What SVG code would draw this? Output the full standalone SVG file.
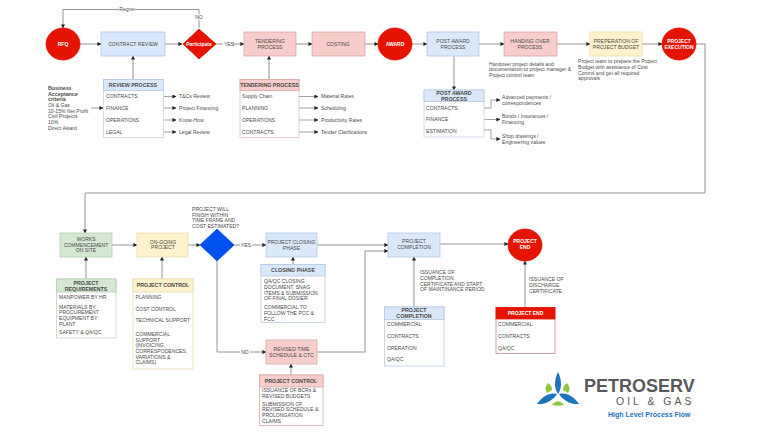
<svg xmlns="http://www.w3.org/2000/svg" width="768" height="433" viewBox="0 0 768 433">
<style>
text{font-family:"Liberation Sans",Arial,sans-serif;font-size:5.1px;fill:#4a4a4a}
.c{text-anchor:middle}
.b{font-weight:bold;font-size:5.3px}
.w{fill:#fff;font-weight:bold;font-size:5px}
.blue{fill:#dae8fc;stroke:#b4c7e0}
.red{fill:#f8cecc;stroke:#d8a8a6}
.yel{fill:#fff2cc;stroke:#e6dbb0}
.grn{fill:#d5e8d4;stroke:#b5cfb3}
.circ{fill:#e51400;stroke:#e51400}
.box{fill:#fff}
rect,ellipse,polygon{stroke-width:.8}
.con path{fill:none;stroke:#888;stroke-width:.9;marker-end:url(#a)}
.con path.t{stroke:#666;stroke-width:.6}
.con path.n{marker-end:none}
</style>
<defs><marker id="a" markerUnits="userSpaceOnUse" markerWidth="4" markerHeight="4" refX="3.6" refY="2" orient="auto"><path d="M0,0L4,2L0,4Z" fill="#222"/></marker></defs>
<rect width="768" height="433" fill="#fff"/>
<g class="con" id="connectors">
<path d="M199,28V9.500H63V28"/>
<path d="M80,44H101"/><path d="M165,44H182"/><path d="M216,44H244"/><path d="M296,44H312"/><path d="M365,44H378"/><path d="M412,44H427"/><path d="M479,44H504"/><path d="M557,44H590"/><path d="M642,44H662"/>
<path d="M133,79V56"/><path d="M269,79V56"/><path d="M454,56V90"/>
<path class="t" d="M91,108H103"/>
<path class="t" d="M163,96.500H176"/><path class="t" d="M163,108H176"/><path class="t" d="M163,120H176"/><path class="t" d="M163,132H176"/>
<path class="t" d="M299,96.500H318"/><path class="t" d="M299,108H318"/><path class="t" d="M299,120H318"/><path class="t" d="M299,132H318"/>
<path class="t" d="M484,108H491V100H500"/><path class="t" d="M484,119.500H500"/><path class="t" d="M484,130H491V139H500"/>
<path d="M696,44H705V193H85V233"/>
<path d="M112,245H137"/><path d="M188,245H200"/><path d="M234,245H266"/><path d="M86,279V257"/><path d="M162,279V257"/>
<path d="M293,264V257"/><path d="M291,375V364"/>
<path d="M217,261V352H266"/>
<path d="M317,245H388"/><path d="M317,352H365V251H388"/>
<path d="M440,244H508"/><path d="M414,307V257"/><path d="M525,307V261"/>
</g>
<g id="rfq"><ellipse class="circ" cx="63" cy="44" rx="17" ry="16"/><text class="c w" x="63" y="46">RFQ</text></g>
<g id="contract-review"><rect class="blue" x="101" y="32" width="64" height="24"/><text class="c" x="133" y="46">CONTRACT REVIEW</text></g>
<g id="participate"><polygon class="circ" points="199,29 216,44 199,59 183,44"/><text class="c w" x="199" y="46">Participate</text></g>
<g id="tendering"><rect class="red" x="244" y="32" width="52" height="24"/><text class="c" x="270" y="43">TENDERING</text><text class="c" x="270" y="49">PROCESS</text></g>
<g id="costing"><rect class="red" x="312" y="32" width="53" height="24"/><text class="c" x="338" y="46">COSTING</text></g>
<g id="award"><ellipse class="circ" cx="395" cy="44" rx="17" ry="16"/><text class="c w" x="395" y="46">AWARD</text></g>
<g id="post-award"><rect class="blue" x="427" y="32" width="52" height="24"/><text class="c" x="453" y="43">POST AWARD</text><text class="c" x="453" y="49">PROCESS</text></g>
<g id="handing-over"><rect class="red" x="504" y="32" width="53" height="24"/><text class="c" x="530" y="43">HANDING OVER</text><text class="c" x="530" y="49">PROCESS</text></g>
<g id="budget"><rect class="yel" x="590" y="32" width="52" height="24"/><text class="c" x="616" y="43">PREPERATION OF</text><text class="c" x="616" y="49">PROJECT BUDGET</text></g>
<g id="execution"><ellipse class="circ" cx="679" cy="44" rx="17" ry="16"/><text class="c w" x="679" y="43">PROJECT</text><text class="c w" x="679" y="49">EXECUTION</text></g>

<g id="criteria"><text class="b" x="48" y="90">Business</text><text class="b" x="48" y="95.500">Acceptance</text><text class="b" x="48" y="101">criteria</text><text x="48" y="107">Oil &amp; Gas</text><text x="48" y="112.500">10-15% Net Profit</text><text x="48" y="118">Civil Projects</text><text x="48" y="123.500">10%</text><text x="48" y="129.500">Direct Award</text></g>
<g id="review-process"><rect class="box" x="103.500" y="79.500" width="60" height="58" stroke="#c5d3e6"/><rect class="blue" x="103.500" y="79.500" width="60" height="11"/><text class="c b" x="133" y="87">REVIEW PROCESS</text><text x="106" y="98">CONTRACTS</text><text x="106" y="110">FINANCE</text><text x="106" y="121.500">OPERATIONS</text><text x="106" y="133.500">LEGAL</text></g>
<g id="review-outputs"><text x="179" y="98">T&amp;Cs Review</text><text x="179" y="110">Project Financing</text><text x="179" y="122">Know-How</text><text x="179" y="133.500">Legal Review</text></g>
<g id="tendering-process"><rect class="box" x="240" y="79.500" width="59" height="58" stroke="#dfc0bf"/><rect class="red" x="240" y="79.500" width="59" height="11"/><text class="c b" x="269.500" y="87">TENDERING PROCESS</text><text x="242" y="98">Supply Chain</text><text x="242" y="110">PLANNING</text><text x="242" y="121.500">OPERATIONS</text><text x="242" y="133.500">CONTRACTS</text></g>
<g id="tendering-outputs"><text x="321" y="98">Material Rates</text><text x="321" y="110">Scheduling</text><text x="321" y="122">Productivity Rates</text><text x="321" y="133.500">Tender Clarifications</text></g>
<g id="post-award-process"><rect class="box" x="424" y="90" width="60" height="47" stroke="#c5d3e6"/><rect class="blue" x="424" y="90" width="60" height="11.500"/><text class="c b" x="454" y="95">POST AWARD</text><text class="c b" x="454" y="101">PROCESS</text><text x="426" y="109.500">CONTRACTS</text><text x="426" y="121">FINANCE</text><text x="426" y="132.500">ESTIMATION</text></g>
<g id="post-award-outputs"><text x="502" y="99">Advanced payments /</text><text x="502" y="104.500">correspondences</text><text x="502" y="118">Bonds / Insurances /</text><text x="502" y="124">Financing</text><text x="502" y="138">Shop drawings /</text><text x="502" y="144">Engineering values</text></g>
<g id="handover-note"><text x="489" y="65.500">Handover project details and</text><text x="489" y="71">documentation to project manager &amp;</text><text x="489" y="77">Project control team</text></g>
<g id="budget-note"><text x="578" y="63">Project team to prepare the Project</text><text x="578" y="68.500">Budget with assistance of Cost</text><text x="578" y="74.500">Control and get all required</text><text x="578" y="80">approvals</text></g>

<g id="works"><rect class="grn" x="60" y="233" width="52" height="24"/><text class="c" x="86" y="240.500">WORKS</text><text class="c" x="86" y="246.500">COMMENCEMENT</text><text class="c" x="86" y="252">ON SITE</text></g>
<g id="ongoing"><rect class="yel" x="137" y="233" width="51" height="24"/><text class="c" x="163" y="243.500">ON-GOING</text><text class="c" x="163" y="249">PROJECT</text></g>
<g id="decision"><polygon points="217,229 234,245 217,261 200,245" fill="#0050ef" stroke="#0050ef"/><text x="192" y="211">PROJECT WILL</text><text x="192" y="216.500">FINISH WITHIN</text><text x="192" y="222">TIME FRAME AND</text><text x="192" y="227.500">COST ESTIMATED?</text></g>
<g id="closing-phase"><rect class="blue" x="266" y="233" width="51" height="24"/><text class="c" x="291.500" y="243.500">PROJECT CLOSING</text><text class="c" x="291.500" y="249.500">PHASE</text></g>
<g id="closing-box"><rect class="box" x="261" y="264.500" width="64" height="58" stroke="#b9cbe0"/><rect class="blue" x="261" y="264.500" width="64" height="11.500"/><text class="c b" x="293" y="272">CLOSING PHASE</text><text x="264" y="283">QA/QC CLOSING</text><text x="264" y="288.500">DOCUMENT, SNAG</text><text x="264" y="294.500">ITEMS &amp; SUBMISSION</text><text x="264" y="300">OF FINAL DOSIER</text><text x="264" y="309">COMMERCIAL TO</text><text x="264" y="314.500">FOLLOW THE PCC &amp;</text><text x="264" y="320.500">FCC</text></g>
<g id="revised"><rect class="red" x="266" y="340" width="51" height="24"/><text class="c" x="291.500" y="350.500">REVISED TIME</text><text class="c" x="291.500" y="356.500">SCHEDULE &amp; CTC</text></g>
<g id="control-red"><rect class="box" x="259.500" y="375" width="63.500" height="50.500" stroke="#d8b0ae"/><rect class="red" x="259.500" y="375" width="63.500" height="12"/><text class="c b" x="291" y="382.500">PROJECT CONTROL</text><text x="262" y="392">ISSUANCE OF BCRs &amp;</text><text x="262" y="397.500">REVISED BUDGETS</text><text x="262" y="405.500">SUBMISSION OF</text><text x="262" y="411">REVISED SCHEDULE &amp;</text><text x="262" y="417">PROLONGATION</text><text x="262" y="422.500">CLAIMS</text></g>
<g id="requirements"><rect class="box" x="56.500" y="279" width="59.500" height="59" stroke="#c3d8c1"/><rect class="grn" x="56.500" y="279" width="59.500" height="13"/><text class="c b" x="86" y="284.500">PROJECT</text><text class="c b" x="86" y="290.500">REQUIREMENTS</text><text x="59" y="299">MANPOWER BY HR</text><text x="59" y="308.500">MATERIALS BY</text><text x="59" y="314">PROCUREMENT</text><text x="59" y="320">EQUIPMENT BY</text><text x="59" y="325.500">PLANT</text><text x="59" y="333.500">SAFETY &amp; QA/QC</text></g>
<g id="control-yellow"><rect class="box" x="133" y="279" width="60" height="90" stroke="#e6dbb0"/><rect class="yel" x="133" y="279" width="60" height="13"/><text class="c b" x="163" y="287">PROJECT CONTROL</text><text x="135.500" y="299">PLANNING</text><text x="135.500" y="310.500">COST CONTROL</text><text x="135.500" y="322">TECHNICAL SUPPORT</text><text x="135.500" y="335.500">COMMERCIAL</text><text x="135.500" y="341.500">SUPPORT</text><text x="135.500" y="347">(INVOICING,</text><text x="135.500" y="353">CORRESPODENCES,</text><text x="135.500" y="358.500">VARIATIONS &amp;</text><text x="135.500" y="364">CLAIMS)</text></g>
<g id="completion"><rect class="blue" x="388" y="233" width="52" height="24"/><text class="c" x="414" y="243">PROJECT</text><text class="c" x="414" y="249">COMPLETION</text></g>
<g id="completion-box"><rect class="box" x="384.500" y="307" width="59.500" height="59" stroke="#b9cbe0"/><rect class="blue" x="384.500" y="307" width="59.500" height="12.500"/><text class="c b" x="414" y="311.500">PROJECT</text><text class="c b" x="414" y="317.500">COMPLETION</text><text x="387" y="326">COMMERCIAL</text><text x="387" y="337.500">CONTRACTS</text><text x="387" y="349.500">OPERATION</text><text x="387" y="361">QA/QC</text></g>
<g id="end"><ellipse class="circ" cx="525" cy="245" rx="17" ry="16"/><text class="c w" x="525" y="243">PROJECT</text><text class="c w" x="525" y="249">END</text></g>
<g id="end-box"><rect class="box" x="496" y="307.500" width="59" height="46" stroke="#c88"/><rect class="circ" x="496" y="307.500" width="59" height="11.500"/><text class="c w" x="525.500" y="314.500">PROJECT END</text><text x="498" y="326">COMMERCIAL</text><text x="498" y="337.500">CONTRACTS</text><text x="498" y="349.500">QA/QC</text></g>
<g id="notes"><text x="420" y="274">ISSUANCE OF</text><text x="420" y="279.500">COMPLETION</text><text x="420" y="285.500">CERTIFICATE AND START</text><text x="420" y="291">OF MAINTINANCE PERIOD</text><text x="529" y="281">ISSUANCE OF</text><text x="529" y="287">DISCHARGE</text><text x="529" y="293">CERTIFICATE</text></g>
<g id="labels"><rect x="119" y="6" width="16" height="6" fill="#fff"/><text class="c" x="127" y="10.500">Regret</text><rect x="194" y="14" width="10" height="6" fill="#fff"/><text class="c" x="199" y="19">NO</text><rect x="223" y="41" width="10" height="6" fill="#fff"/><text class="c" x="229" y="46">YES</text><rect x="240" y="242" width="12" height="6" fill="#fff"/><text class="c" x="246" y="247">YES</text><rect x="240" y="349" width="10" height="6" fill="#fff"/><text class="c" x="245" y="354">NO</text></g>
<g id="logo"><path d="M558,372C554,380 554,388 558,394C562,388 562,380 558,372Z" fill="#1b75bc"/><path d="M537,404C546,405 553,400 557,394C549,392 542,397 537,404Z" fill="#1b75bc"/><path d="M579,404C570,405 563,400 559,394C567,392 574,397 579,404Z" fill="#1b75bc"/><path d="M548,383C545,387 545,390 547,393L552,390C552,387 551,385 548,383Z" fill="#8dc63f"/><path d="M567,383C570,387 570,390 568,393L563,390C563,387 564,385 567,383Z" fill="#8dc63f"/><path d="M552,405C556,400 560,400 564,405C560,406 556,406 552,405Z" fill="#8dc63f"/>
<text x="584" y="391.500" style="font-size:18px;font-weight:bold;fill:#58595b">PETROSERV</text><text x="616" y="405" style="font-size:10.500px;fill:#58595b;letter-spacing:3px">OIL &amp; GAS</text><text x="608" y="416.500" style="font-size:7px;font-weight:bold;fill:#1b75bc">High Level Process Flow</text></g>
</svg>
